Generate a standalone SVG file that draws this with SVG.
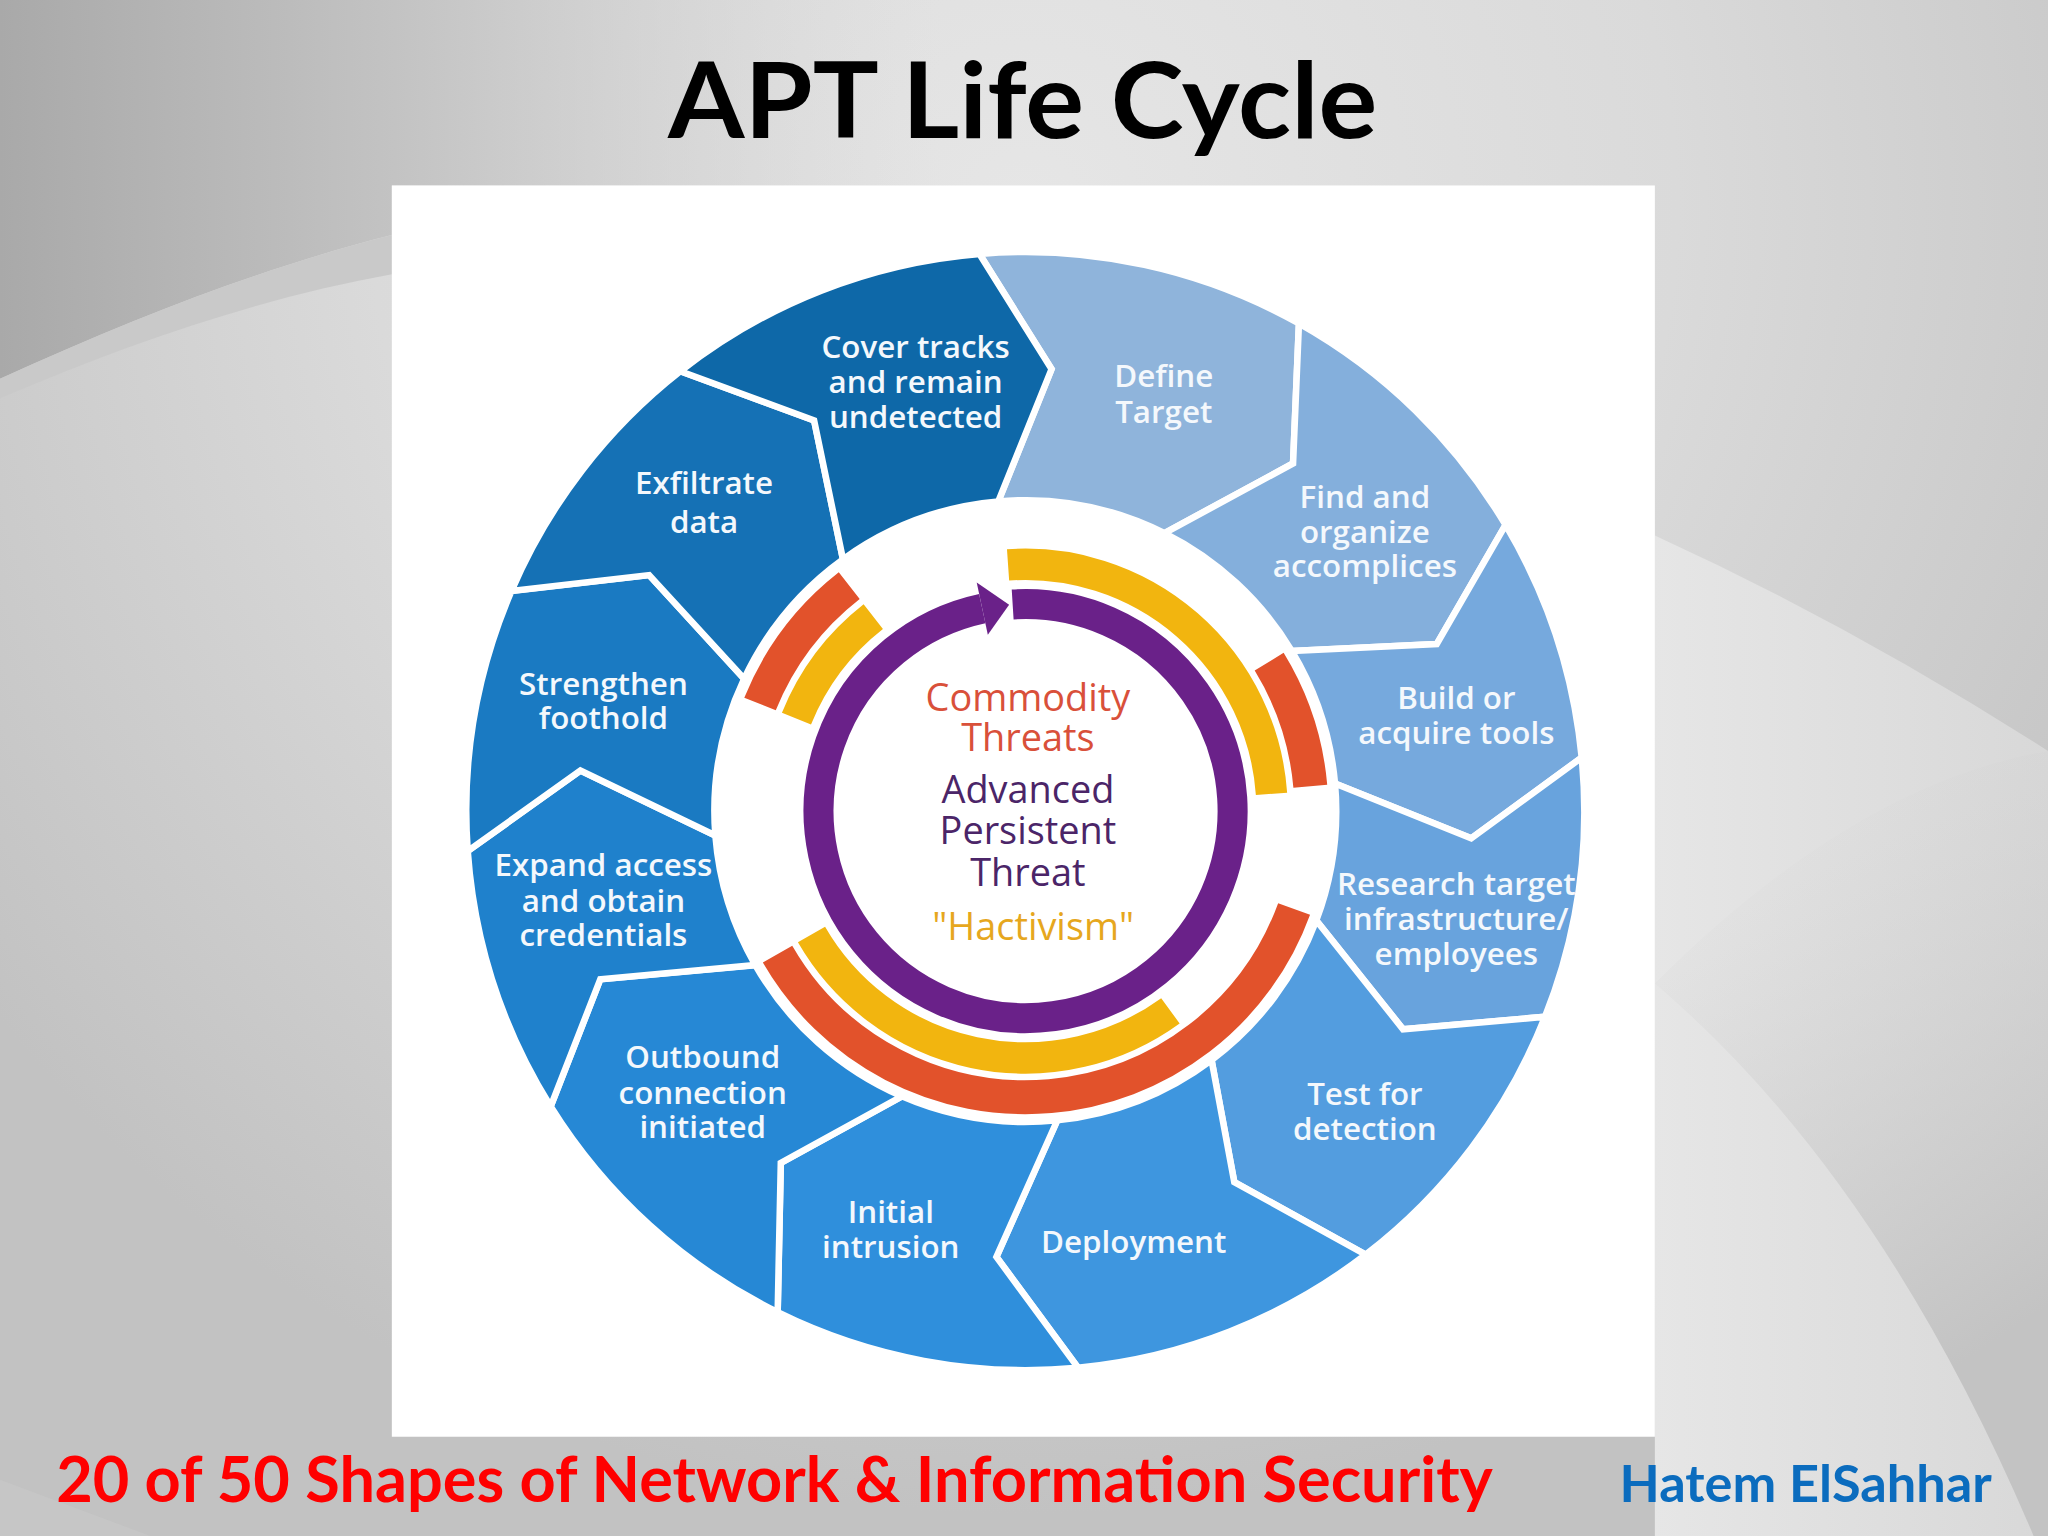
<svg xmlns="http://www.w3.org/2000/svg" width="2048" height="1536" viewBox="0 0 2048 1536">
<defs>
<radialGradient id="bg" gradientUnits="userSpaceOnUse" cx="784" cy="160" r="1000">
<stop offset="0" stop-color="#e6e6e6"/>
<stop offset="0.5" stop-color="#dadada"/>
<stop offset="1" stop-color="#c2c2c2"/>
</radialGradient>
<linearGradient id="corner" gradientUnits="userSpaceOnUse" x1="0" y1="0" x2="720" y2="0">
<stop offset="0" stop-color="#a9a9a9"/>
<stop offset="0.42" stop-color="#c3c3c3"/>
<stop offset="1" stop-color="#d6d6d6" stop-opacity="0"/>
</linearGradient>
<linearGradient id="rightDark" gradientUnits="userSpaceOnUse" x1="1330" y1="640" x2="1568" y2="1000">
<stop offset="0" stop-color="#d2d2d2" stop-opacity="0"/>
<stop offset="1" stop-color="#c3c3c3" stop-opacity="1"/>
</linearGradient>
<linearGradient id="rightLight" gradientUnits="userSpaceOnUse" x1="1267" y1="0" x2="1568" y2="0">
<stop offset="0" stop-color="#e6e6e6"/>
<stop offset="1" stop-color="#d8d8d8"/>
</linearGradient>
<style>
.seg path{stroke:#ffffff;stroke-width:5;stroke-linejoin:miter}
.lbl{font-family:"Open Sans","Liberation Sans",sans-serif;font-weight:600;font-size:24px;fill:#f4f8fc;text-anchor:middle}
.ctr{font-family:"Open Sans","Liberation Sans",sans-serif;font-weight:500;font-size:29px;text-anchor:middle}
.yel{fill:none;stroke:#f2b50f;stroke-width:24}
.red{fill:none;stroke:#e2522b;stroke-width:26}
</style>
</defs>
<g transform="scale(1.306122)">
<rect x="0" y="0" width="1568" height="1176" fill="url(#bg)"/>
<path d="M0,0 L0,290 C110,240 205,204 300,180 L300,142 L720,142 L720,0 Z" fill="url(#corner)"/>
<path d="M0,290 C110,240 205,204 300,180 L300,210 C200,228 100,262 0,305 Z" fill="#c9c9c9"/>
<path d="M1267,410 Q1420,480 1568,575 L1568,1176 L1267,1176 Z" fill="url(#rightLight)"/>
<path d="M1267,753 Q1440,900 1557,1176 L1568,1176 L1568,575 Q1420,600 1267,753 Z" fill="url(#rightDark)"/>
<path d="M0,1133 L115,1176 L0,1176 Z" fill="#c6c6c6"/>

<text x="783" y="106" font-family="Lato,'Liberation Sans',sans-serif" font-weight="700" font-size="80" fill="#000000" text-anchor="middle" textLength="543" lengthAdjust="spacingAndGlyphs">APT Life Cycle</text>

<rect x="300" y="142" width="967" height="958" fill="#ffffff"/>

<g transform="translate(785,621)">
<g id="define-target" class="seg">
<path fill="#8fb4db" d="M -35.1 -426.6 A 428 428 0 0 1 209.5 -373.3 L 205.0 -266.2 L 106.6 -212.8 A 238 238 0 0 0 -20.7 -237.1 L 20.1 -338.4 Z"/>
<text class="lbl"><tspan x="106" y="-325">Define</tspan><tspan x="106" y="-297">Target</tspan></text>
</g>
<g id="find-accomplices" class="seg">
<path fill="#84afdc" d="M 209.5 -373.3 A 428 428 0 0 1 367.7 -219.1 L 315.0 -127.9 L 204.0 -122.6 A 238 238 0 0 0 106.6 -212.8 L 205.0 -266.2 Z"/>
<text class="lbl"><tspan x="260" y="-232">Find and</tspan><tspan x="260" y="-205">organize</tspan><tspan x="260" y="-179">accomplices</tspan></text>
</g>
<g id="build-tools" class="seg">
<path fill="#76a9dd" d="M 367.7 -219.1 A 428 428 0 0 1 426.0 -41.0 L 341.4 20.9 L 237.1 -21.2 A 238 238 0 0 0 204.0 -122.6 L 315.0 -127.9 Z"/>
<text class="lbl"><tspan x="330" y="-78">Build or</tspan><tspan x="330" y="-51">acquire tools</tspan></text>
</g>
<g id="research-target" class="seg">
<path fill="#68a3dd" d="M 426.0 -41.0 A 428 428 0 0 1 397.9 157.5 L 289.2 167.0 L 222.8 83.7 A 238 238 0 0 0 237.1 -21.2 L 341.4 20.9 Z"/>
<text class="lbl"><tspan x="330" y="64">Research target</tspan><tspan x="330" y="91">infrastructure/</tspan><tspan x="330" y="118">employees</tspan></text>
</g>
<g id="test-detection" class="seg">
<path fill="#539ddf" d="M 397.9 157.5 A 428 428 0 0 1 260.6 339.6 L 160.0 284.0 L 142.6 190.6 A 238 238 0 0 0 222.8 83.7 L 289.2 167.0 Z"/>
<text class="lbl"><tspan x="260" y="225">Test for</tspan><tspan x="260" y="252">detection</tspan></text>
</g>
<g id="deployment" class="seg">
<path fill="#3e96df" d="M 260.6 339.6 A 428 428 0 0 1 40.3 426.1 L -22.1 341.3 L 24.5 236.7 A 238 238 0 0 0 142.6 190.6 L 160.0 284.0 Z"/>
<text class="lbl"><tspan x="83" y="338">Deployment</tspan></text>
</g>
<g id="initial-intrusion" class="seg">
<path fill="#2f8fdc" d="M 40.3 426.1 A 428 428 0 0 1 -189.6 383.7 L -187.2 269.3 L -94.5 218.4 A 238 238 0 0 0 24.5 236.7 L -22.1 341.3 Z"/>
<text class="lbl"><tspan x="-103" y="315">Initial</tspan><tspan x="-103" y="342">intrusion</tspan></text>
</g>
<g id="outbound-connection" class="seg">
<path fill="#2688d5" d="M -189.6 383.7 A 428 428 0 0 1 -363.4 226.2 L -325.4 128.8 L -206.7 117.9 A 238 238 0 0 0 -94.5 218.4 L -187.2 269.3 Z"/>
<text class="lbl"><tspan x="-247" y="197">Outbound</tspan><tspan x="-247" y="224">connection</tspan><tspan x="-247" y="250">initiated</tspan></text>
</g>
<g id="expand-access" class="seg">
<path fill="#1f81cc" d="M -363.4 226.2 A 428 428 0 0 1 -426.9 30.6 L -340.6 -31.0 L -237.3 18.7 A 238 238 0 0 0 -206.7 117.9 L -325.4 128.8 Z"/>
<text class="lbl"><tspan x="-323" y="50">Expand access</tspan><tspan x="-323" y="77">and obtain</tspan><tspan x="-323" y="103">credentials</tspan></text>
</g>
<g id="strengthen-foothold" class="seg">
<path fill="#1a7ac2" d="M -426.9 30.6 A 428 428 0 0 1 -393.4 -168.6 L -288.0 -180.7 L -215.3 -101.3 A 238 238 0 0 0 -237.3 18.7 L -340.6 -31.0 Z"/>
<text class="lbl"><tspan x="-323" y="-89">Strengthen</tspan><tspan x="-323" y="-63">foothold</tspan></text>
</g>
<g id="exfiltrate-data" class="seg">
<path fill="#1571b5" d="M -393.4 -168.6 A 428 428 0 0 1 -264.1 -336.8 L -161.7 -299.1 L -139.6 -192.8 A 238 238 0 0 0 -215.3 -101.3 L -288.0 -180.7 Z"/>
<text class="lbl"><tspan x="-246" y="-243">Exfiltrate</tspan><tspan x="-246" y="-213">data</tspan></text>
</g>
<g id="cover-tracks" class="seg">
<path fill="#0e68a8" d="M -264.1 -336.8 A 428 428 0 0 1 -35.1 -426.6 L 20.1 -338.4 L -20.7 -237.1 A 238 238 0 0 0 -139.6 -192.8 L -161.7 -299.1 Z"/>
<text class="lbl"><tspan x="-84" y="-347">Cover tracks</tspan><tspan x="-84" y="-320">and remain</tspan><tspan x="-84" y="-293">undetected</tspan></text>
</g>

<g id="threat-arcs">
<path class="yel" d="M -13.2 -188.5 A 189 189 0 0 1 188.5 -13.2"/>
<path class="yel" d="M 111.1 152.9 A 189 189 0 0 1 -163.7 94.5"/>
<path class="yel" d="M -175.2 -70.8 A 189 189 0 0 1 -116.4 -148.9"/>
<path class="red" d="M 186.7 -114.4 A 219 219 0 0 1 218.2 -19.1"/>
<path class="red" d="M 205.8 74.9 A 219 219 0 0 1 -189.7 109.5"/>
<path class="red" d="M -203.1 -82.0 A 219 219 0 0 1 -134.8 -172.6"/>
</g>

<g id="connectors">
<path d="M -9.68 -158.2 A 158.5 158.5 0 1 1 -32.95 -155.0" fill="none" stroke="#6a2189" stroke-width="23"/>
<polygon points="-28.7,-135.0 -37.2,-175.1 -12.4,-158.0" fill="#6a2189"/>
</g>

<g id="center-labels">
<text class="ctr" fill="#d9503a"><tspan x="2" y="-77">Commodity</tspan><tspan x="2" y="-46">Threats</tspan></text>
<text class="ctr" fill="#4b2568"><tspan x="2" y="-6">Advanced</tspan><tspan x="2" y="25">Persistent</tspan><tspan x="2" y="57">Threat</tspan></text>
<text class="ctr" fill="#e6a71e"><tspan x="6" y="99">"Hactivism"</tspan></text>
</g>
</g>

<text x="43" y="1150" font-family="Lato,'Liberation Sans',sans-serif" font-weight="700" font-size="48" fill="#ff0000" textLength="1100" lengthAdjust="spacingAndGlyphs">20 of 50 Shapes of Network &amp; Information Security</text>
<text x="1240" y="1150" font-family="Lato,'Liberation Sans',sans-serif" font-weight="700" font-size="40" fill="#0b6cbe" textLength="285" lengthAdjust="spacingAndGlyphs">Hatem ElSahhar</text>
</g>
</svg>
